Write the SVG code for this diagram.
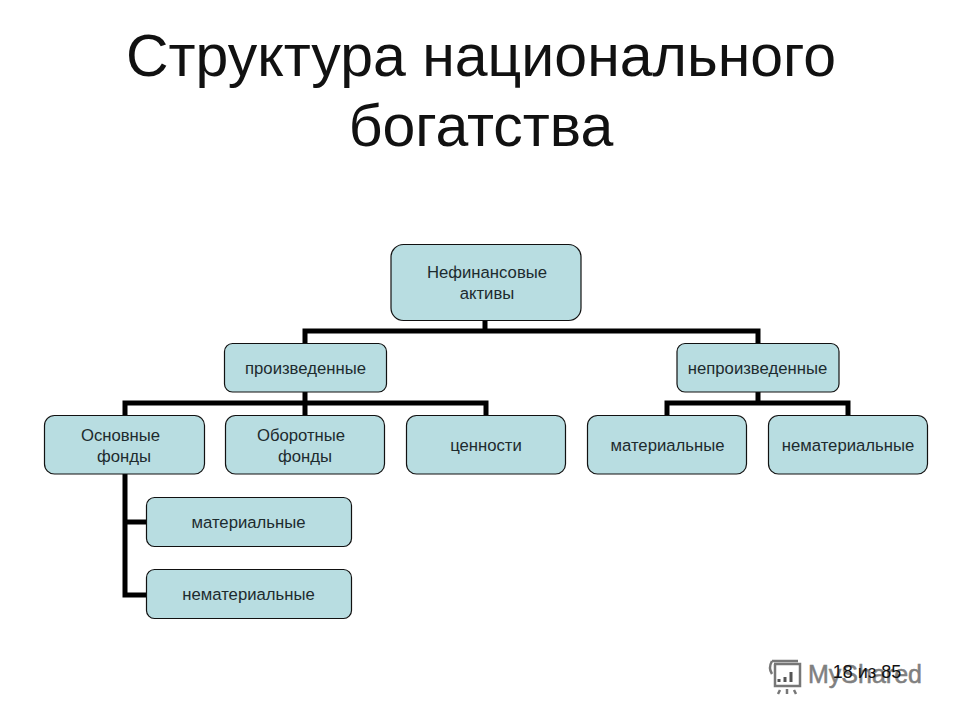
<svg xmlns="http://www.w3.org/2000/svg" width="960" height="720" viewBox="0 0 960 720">
<style>
text{font-family:"Liberation Sans",Arial,sans-serif;text-anchor:middle}
.t{font-size:59px;fill:#111}
.l{font-size:16.700px;fill:#1d2b2e}
.n{fill:#b8dde1;stroke:#111;stroke-width:1.2}
.c{fill:none;stroke:#000;stroke-width:5;stroke-linejoin:miter}
</style>
<rect width="960" height="720" fill="#fff"/>
<text class="t" x="481" y="76">Структура национального</text>
<text class="t" x="481" y="146">богатства</text>
<g id="connectors">
<path class="c" d="M485 320V331M305 343V331H758V343"/>
<path class="c" d="M305 392V415M125 415V403H486V415"/>
<path class="c" d="M758 392V403M667 415V403H848V415"/>
<path class="c" d="M125 474V595H147M125 522H147"/>
</g>
<g id="n-root"><rect class="n" x="391" y="244.500" width="190" height="76" rx="12.500"/><text class="l" x="487" y="278">Нефинансовые</text><text class="l" x="487" y="299">активы</text></g>
<g id="n-prod"><rect class="n" x="224.500" y="343.500" width="162" height="48.500" rx="8"/><text class="l" x="305.500" y="374">произведенные</text></g>
<g id="n-nonprod"><rect class="n" x="677" y="343.500" width="162" height="48.500" rx="8"/><text class="l" x="757.500" y="374">непроизведенные</text></g>
<g id="n-fixed"><rect class="n" x="44.500" y="415.500" width="160" height="58.500" rx="10"/><text class="l" x="120.500" y="441">Основные</text><text class="l" x="124" y="462">фонды</text></g>
<g id="n-working"><rect class="n" x="225.500" y="415.500" width="159" height="58.500" rx="10"/><text class="l" x="301" y="441">Оборотные</text><text class="l" x="305" y="462">фонды</text></g>
<g id="n-values"><rect class="n" x="406.500" y="415.500" width="159" height="58.500" rx="10"/><text class="l" x="486" y="451">ценности</text></g>
<g id="n-mat"><rect class="n" x="587.500" y="415.500" width="159" height="58.500" rx="10"/><text class="l" x="667.500" y="451">материальные</text></g>
<g id="n-nonmat"><rect class="n" x="768.500" y="415.500" width="159" height="58.500" rx="10"/><text class="l" x="848" y="451">нематериальные</text></g>
<g id="n-fixed-mat"><rect class="n" x="146.500" y="497.500" width="205" height="49" rx="8"/><text class="l" x="248.500" y="528">материальные</text></g>
<g id="n-fixed-nonmat"><rect class="n" x="146.500" y="569.500" width="205" height="49" rx="8"/><text class="l" x="248.500" y="600">нематериальные</text></g>
<g id="watermark" fill="none" stroke="#777" stroke-width="2.500">
<path d="M772 661H798M774 664H800V686H775V664M772 661Q768 668 772 674"/>
<path d="M780 690L778 694M787 689V694M794 690L796 694"/>
<path d="M779 679V682M785 677V682M791 672V682" stroke="#555" stroke-width="3"/>
</g>
<text x="865" y="683" style="font-size:25px;fill:#808080;stroke:#808080;stroke-width:.5px">MyShared</text>
<text x="867" y="678" style="font-size:18px;fill:#111">18 из 85</text>
</svg>
